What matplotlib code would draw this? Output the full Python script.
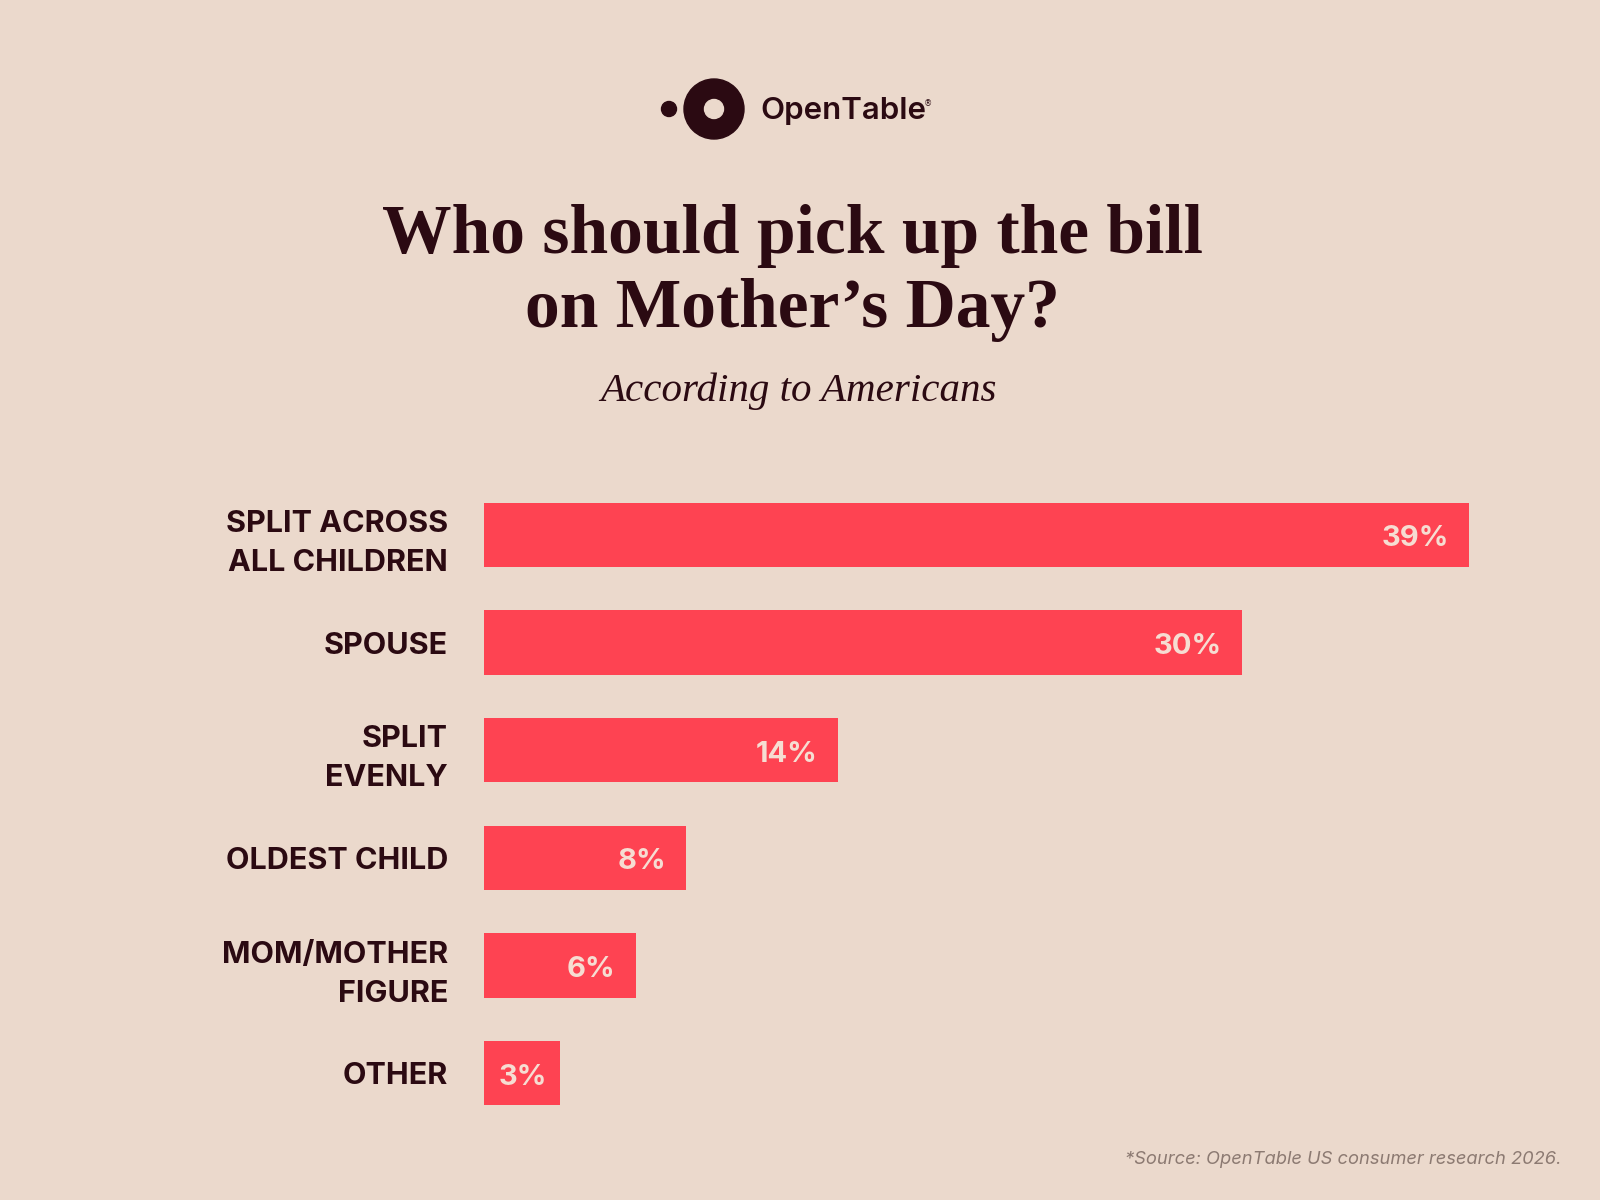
import matplotlib
matplotlib.use("Agg")
import matplotlib.pyplot as plt
from matplotlib.patches import Circle

# --- data ---------------------------------------------------------------
categories = [
    "SPLIT ACROSS\nALL CHILDREN",
    "SPOUSE",
    "SPLIT\nEVENLY",
    "OLDEST CHILD",
    "MOM/MOTHER\nFIGURE",
    "OTHER",
]
shares = [39, 30, 14, 8, 6, 3]
value_labels = [f"{v}%" for v in shares]

title = "Who should pick up the bill\non Mother\u2019s Day?"
subtitle = "According to Americans"
source = "*Source: OpenTable US consumer research 2026."

BG = "#ebd9cc"
INK = "#2b0a12"
BAR = "#fe4352"
VALUE_INK = "#f6ddd2"
SOURCE_INK = "#8c7a72"

W, H = 1600, 1200
fig = plt.figure(figsize=(16, 12), dpi=100, facecolor=BG)

# overlay axes in pixel coordinates (y down) for title + logo
deco = fig.add_axes([0, 0, 1, 1])
deco.set_xlim(0, W)
deco.set_ylim(H, 0)
deco.axis("off")

# logo
deco.add_patch(Circle((669, 109), 7.5, color=INK))
deco.add_patch(Circle((714, 109), 30, color=INK))
deco.add_patch(Circle((714, 109), 9.5, color=BG))
deco.text(760, 111, "OpenTable", ha="left", va="center", fontsize=22.5,
          fontfamily="Inter", fontweight="semibold", color=INK)
deco.text(924, 104, "\u00ae", ha="left", va="center", fontsize=6,
          fontfamily="DejaVu Sans", color=INK)

deco.text(792, 273, title, ha="center", va="center", fontsize=50,
          fontfamily="Liberation Serif", fontweight="bold", color=INK,
          linespacing=1.2)
deco.text(798, 391, subtitle, ha="center", va="center", fontsize=29.5,
          fontfamily="Liberation Serif", fontstyle="italic", color=INK)
deco.text(1561, 1159, source, ha="right", va="center", fontsize=13.2,
          fontfamily="Inter", fontstyle="italic", color=SOURCE_INK)

# bar axes: 1000 px wide starting at x=484, 25.26 px per percentage point
px_per_pt = 25.26
ax = fig.add_axes([484 / W, 1 - 1127 / H, 1000 / W, 646 / H])
ax.set_facecolor("none")
ypos = list(range(len(categories)))
ax.barh(ypos, shares, height=0.595, color=BAR)
ax.set_xlim(0, 1000 / px_per_pt)
ax.set_ylim(len(categories) - 0.5, -0.5)
for s in ax.spines.values():
    s.set_visible(False)
ax.set_xticks([])
ax.set_yticks(ypos)
ax.set_yticklabels(categories, fontsize=22, fontfamily="Inter",
                   fontweight="bold", color=INK, linespacing=1.5)
ax.tick_params(axis="y", length=0, pad=26)

for y, v, lab in zip(ypos, shares, value_labels):
    # the shortest bar keeps its label a little closer to the end
    dx = -13 if v < 5 else -20
    ax.annotate(lab, (v, y), xytext=(dx, -4), textcoords="offset pixels",
                ha="right", va="center", fontsize=21, fontfamily="Inter",
                fontweight="bold", color=VALUE_INK)

fig.savefig("out.png", dpi=100, facecolor=BG)
